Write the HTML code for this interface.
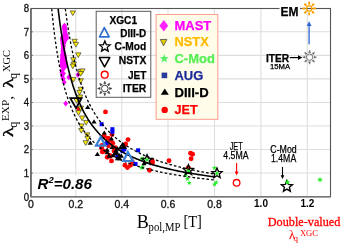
<!DOCTYPE html>
<html><head><meta charset="utf-8"><style>
html,body{margin:0;padding:0;background:#fff;width:342px;height:245px;overflow:hidden}
svg{display:block}
.g{stroke:#dedede;stroke-width:1.1}
.sol{fill:none;stroke:#000;stroke-width:1.6}
.dsh{fill:none;stroke:#000;stroke-width:1.3;stroke-dasharray:2.6 2.1}
.tk{font-family:"Liberation Sans",Arial,sans-serif;font-size:10.5px;fill:#111;stroke:#111;stroke-width:0.3px}
.tb{font-family:"Liberation Sans",Arial,sans-serif;font-size:10px;font-weight:bold;fill:#000}
.lg{font-family:"Liberation Sans",Arial,sans-serif;font-weight:bold;stroke-width:0.25px}
.sr{font-family:"Liberation Serif","Times New Roman",serif}
.cal{font-family:"Liberation Sans",Arial,sans-serif;fill:#000;stroke:#000;stroke-width:0.25px}
</style></head><body>
<svg width="342" height="245" viewBox="0 0 342 245">
<line x1="75.80" y1="8.5" x2="75.80" y2="196.5" class="g"/>
<line x1="121.80" y1="8.5" x2="121.80" y2="196.5" class="g"/>
<line x1="168.00" y1="8.5" x2="168.00" y2="196.5" class="g"/>
<line x1="214.50" y1="8.5" x2="214.50" y2="196.5" class="g"/>
<line x1="260.90" y1="8.5" x2="260.90" y2="196.5" class="g"/>
<line x1="307.30" y1="8.5" x2="307.30" y2="196.5" class="g"/>
<line x1="31" y1="173.06" x2="330.5" y2="173.06" class="g"/>
<line x1="31" y1="149.52" x2="330.5" y2="149.52" class="g"/>
<line x1="31" y1="125.98" x2="330.5" y2="125.98" class="g"/>
<line x1="31" y1="102.44" x2="330.5" y2="102.44" class="g"/>
<line x1="31" y1="78.90" x2="330.5" y2="78.90" class="g"/>
<line x1="31" y1="55.36" x2="330.5" y2="55.36" class="g"/>
<line x1="31" y1="31.82" x2="330.5" y2="31.82" class="g"/>
<polygon points="64.7,23.2 62.5,25.5 62.7,30 62.7,35 60,37 60.3,40 60.5,42 60.9,45 61.4,48 61.4,52 60.5,55 60,60 60,65 60.3,68 67.3,68 67.2,65 66.8,60 66.3,55 64.6,52 64.6,48 65.5,44 66.3,41 68.5,39.5 69,37 67.2,34 66.8,30 66.4,25.5" fill="#ff00ff"/>
<polygon points="64.29,23.04 66.69,26.04 64.29,29.04 61.89,26.04" fill="#ff00ff" stroke="none" stroke-width="0"/>
<polygon points="64.39,23.10 66.79,26.10 64.39,29.10 61.99,26.10" fill="#ff00ff" stroke="none" stroke-width="0"/>
<polygon points="64.69,24.17 67.09,27.17 64.69,30.17 62.29,27.17" fill="#ff00ff" stroke="none" stroke-width="0"/>
<polygon points="64.20,24.94 66.60,27.94 64.20,30.94 61.80,27.94" fill="#ff00ff" stroke="none" stroke-width="0"/>
<polygon points="64.49,25.93 66.89,28.93 64.49,31.93 62.09,28.93" fill="#ff00ff" stroke="none" stroke-width="0"/>
<polygon points="65.13,26.17 67.53,29.17 65.13,32.17 62.73,29.17" fill="#ff00ff" stroke="none" stroke-width="0"/>
<polygon points="65.12,27.78 67.52,30.78 65.12,33.78 62.72,30.78" fill="#ff00ff" stroke="none" stroke-width="0"/>
<polygon points="64.93,27.45 67.33,30.45 64.93,33.45 62.53,30.45" fill="#ff00ff" stroke="none" stroke-width="0"/>
<polygon points="65.02,29.77 67.42,32.77 65.02,35.77 62.62,32.77" fill="#ff00ff" stroke="none" stroke-width="0"/>
<polygon points="64.90,29.64 67.30,32.64 64.90,35.64 62.50,32.64" fill="#ff00ff" stroke="none" stroke-width="0"/>
<polygon points="65.17,30.56 67.57,33.56 65.17,36.56 62.77,33.56" fill="#ff00ff" stroke="none" stroke-width="0"/>
<polygon points="65.29,31.09 67.69,34.09 65.29,37.09 62.89,34.09" fill="#ff00ff" stroke="none" stroke-width="0"/>
<polygon points="64.41,32.13 66.81,35.13 64.41,38.13 62.01,35.13" fill="#ff00ff" stroke="none" stroke-width="0"/>
<polygon points="66.15,32.57 68.55,35.57 66.15,38.57 63.75,35.57" fill="#ff00ff" stroke="none" stroke-width="0"/>
<polygon points="65.75,34.58 68.15,37.58 65.75,40.58 63.35,37.58" fill="#ff00ff" stroke="none" stroke-width="0"/>
<polygon points="65.72,34.62 68.12,37.62 65.72,40.62 63.32,37.62" fill="#ff00ff" stroke="none" stroke-width="0"/>
<polygon points="63.86,36.10 66.26,39.10 63.86,42.10 61.46,39.10" fill="#ff00ff" stroke="none" stroke-width="0"/>
<polygon points="64.12,36.24 66.52,39.24 64.12,42.24 61.72,39.24" fill="#ff00ff" stroke="none" stroke-width="0"/>
<polygon points="65.14,37.00 67.54,40.00 65.14,43.00 62.74,40.00" fill="#ff00ff" stroke="none" stroke-width="0"/>
<polygon points="62.43,37.12 64.83,40.12 62.43,43.12 60.03,40.12" fill="#ff00ff" stroke="none" stroke-width="0"/>
<polygon points="64.35,38.94 66.75,41.94 64.35,44.94 61.95,41.94" fill="#ff00ff" stroke="none" stroke-width="0"/>
<polygon points="63.56,38.80 65.96,41.80 63.56,44.80 61.16,41.80" fill="#ff00ff" stroke="none" stroke-width="0"/>
<polygon points="63.17,40.49 65.57,43.49 63.17,46.49 60.77,43.49" fill="#ff00ff" stroke="none" stroke-width="0"/>
<polygon points="62.91,40.69 65.31,43.69 62.91,46.69 60.51,43.69" fill="#ff00ff" stroke="none" stroke-width="0"/>
<polygon points="63.17,42.60 65.57,45.60 63.17,48.60 60.77,45.60" fill="#ff00ff" stroke="none" stroke-width="0"/>
<polygon points="63.28,42.63 65.68,45.63 63.28,48.63 60.88,45.63" fill="#ff00ff" stroke="none" stroke-width="0"/>
<polygon points="63.20,44.29 65.60,47.29 63.20,50.29 60.80,47.29" fill="#ff00ff" stroke="none" stroke-width="0"/>
<polygon points="63.12,43.46 65.52,46.46 63.12,49.46 60.72,46.46" fill="#ff00ff" stroke="none" stroke-width="0"/>
<polygon points="63.00,45.76 65.40,48.76 63.00,51.76 60.60,48.76" fill="#ff00ff" stroke="none" stroke-width="0"/>
<polygon points="63.00,45.86 65.40,48.86 63.00,51.86 60.60,48.86" fill="#ff00ff" stroke="none" stroke-width="0"/>
<polygon points="63.00,47.40 65.40,50.40 63.00,53.40 60.60,50.40" fill="#ff00ff" stroke="none" stroke-width="0"/>
<polygon points="63.00,47.07 65.40,50.07 63.00,53.07 60.60,50.07" fill="#ff00ff" stroke="none" stroke-width="0"/>
<polygon points="63.00,48.81 65.40,51.81 63.00,54.81 60.60,51.81" fill="#ff00ff" stroke="none" stroke-width="0"/>
<polygon points="63.00,48.31 65.40,51.31 63.00,54.31 60.60,51.31" fill="#ff00ff" stroke="none" stroke-width="0"/>
<polygon points="63.50,50.27 65.90,53.27 63.50,56.27 61.10,53.27" fill="#ff00ff" stroke="none" stroke-width="0"/>
<polygon points="62.94,49.76 65.34,52.76 62.94,55.76 60.54,52.76" fill="#ff00ff" stroke="none" stroke-width="0"/>
<polygon points="64.23,52.29 66.63,55.29 64.23,58.29 61.83,55.29" fill="#ff00ff" stroke="none" stroke-width="0"/>
<polygon points="62.37,52.10 64.77,55.10 62.37,58.10 59.97,55.10" fill="#ff00ff" stroke="none" stroke-width="0"/>
<polygon points="63.14,53.05 65.54,56.05 63.14,59.05 60.74,56.05" fill="#ff00ff" stroke="none" stroke-width="0"/>
<polygon points="62.81,53.67 65.21,56.67 62.81,59.67 60.41,56.67" fill="#ff00ff" stroke="none" stroke-width="0"/>
<polygon points="64.59,54.54 66.99,57.54 64.59,60.54 62.19,57.54" fill="#ff00ff" stroke="none" stroke-width="0"/>
<polygon points="63.77,54.54 66.17,57.54 63.77,60.54 61.37,57.54" fill="#ff00ff" stroke="none" stroke-width="0"/>
<polygon points="64.17,56.43 66.57,59.43 64.17,62.43 61.77,59.43" fill="#ff00ff" stroke="none" stroke-width="0"/>
<polygon points="64.74,57.08 67.14,60.08 64.74,63.08 62.34,60.08" fill="#ff00ff" stroke="none" stroke-width="0"/>
<polygon points="63.47,58.70 65.87,61.70 63.47,64.70 61.07,61.70" fill="#ff00ff" stroke="none" stroke-width="0"/>
<polygon points="62.74,57.78 65.14,60.78 62.74,63.78 60.34,60.78" fill="#ff00ff" stroke="none" stroke-width="0"/>
<polygon points="63.89,59.33 66.29,62.33 63.89,65.33 61.49,62.33" fill="#ff00ff" stroke="none" stroke-width="0"/>
<polygon points="62.35,59.71 64.75,62.71 62.35,65.71 59.95,62.71" fill="#ff00ff" stroke="none" stroke-width="0"/>
<polygon points="64.01,61.06 66.41,64.06 64.01,67.06 61.61,64.06" fill="#ff00ff" stroke="none" stroke-width="0"/>
<polygon points="61.77,61.77 64.17,64.77 61.77,67.77 59.37,64.77" fill="#ff00ff" stroke="none" stroke-width="0"/>
<polygon points="62.93,63.46 65.33,66.46 62.93,69.46 60.53,66.46" fill="#ff00ff" stroke="none" stroke-width="0"/>
<polygon points="65.23,62.88 67.63,65.88 65.23,68.88 62.83,65.88" fill="#ff00ff" stroke="none" stroke-width="0"/>
<polygon points="63.62,64.62 66.02,67.62 63.62,70.62 61.22,67.62" fill="#ff00ff" stroke="none" stroke-width="0"/>
<polygon points="64.32,64.70 66.72,67.70 64.32,70.70 61.92,67.70" fill="#ff00ff" stroke="none" stroke-width="0"/>
<polygon points="62.00,67.50 64.40,70.50 62.00,73.50 59.60,70.50" fill="#ff00ff" stroke="none" stroke-width="0"/>
<polygon points="63.50,70.50 65.90,73.50 63.50,76.50 61.10,73.50" fill="#ff00ff" stroke="none" stroke-width="0"/>
<polygon points="62.30,73.00 64.70,76.00 62.30,79.00 59.90,76.00" fill="#ff00ff" stroke="none" stroke-width="0"/>
<polygon points="61.80,69.50 64.20,72.50 61.80,75.50 59.40,72.50" fill="#ff00ff" stroke="none" stroke-width="0"/>
<polygon points="68.80,74.20 71.20,77.20 68.80,80.20 66.40,77.20" fill="#ff00ff" stroke="none" stroke-width="0"/>
<polygon points="64.20,79.30 66.60,82.30 64.20,85.30 61.80,82.30" fill="#ff00ff" stroke="none" stroke-width="0"/>
<polygon points="63.20,75.80 65.60,78.80 63.20,81.80 60.80,78.80" fill="#ff00ff" stroke="none" stroke-width="0"/>
<polygon points="78.00,71.70 80.40,74.70 78.00,77.70 75.60,74.70" fill="#ff00ff" stroke="none" stroke-width="0"/>
<polygon points="65.70,100.60 68.10,103.60 65.70,106.60 63.30,103.60" fill="#ff00ff" stroke="none" stroke-width="0"/>
<circle cx="78.50" cy="108.90" r="2.0" fill="#ff0000"/>
<polygon points="70.10,10.92 75.50,10.92 72.80,15.62" fill="#ffee00" stroke="#333" stroke-width="0.65" stroke-linejoin="round"/>
<polygon points="71.90,39.32 77.30,39.32 74.60,44.02" fill="#ffee00" stroke="#333" stroke-width="0.65" stroke-linejoin="round"/>
<polygon points="73.20,42.42 78.60,42.42 75.90,47.12" fill="#ffee00" stroke="#333" stroke-width="0.65" stroke-linejoin="round"/>
<polygon points="75.60,52.82 81.00,52.82 78.30,57.52" fill="#ffee00" stroke="#333" stroke-width="0.65" stroke-linejoin="round"/>
<polygon points="70.70,57.72 76.10,57.72 73.40,62.42" fill="#ffee00" stroke="#333" stroke-width="0.65" stroke-linejoin="round"/>
<polygon points="71.10,62.02 76.50,62.02 73.80,66.72" fill="#ffee00" stroke="#333" stroke-width="0.65" stroke-linejoin="round"/>
<polygon points="70.10,64.02 75.50,64.02 72.80,68.72" fill="#ffee00" stroke="#333" stroke-width="0.65" stroke-linejoin="round"/>
<polygon points="78.00,69.32 83.40,69.32 80.70,74.02" fill="#ffee00" stroke="#333" stroke-width="0.65" stroke-linejoin="round"/>
<polygon points="79.70,68.92 85.10,68.92 82.40,73.62" fill="#ffee00" stroke="#333" stroke-width="0.65" stroke-linejoin="round"/>
<polygon points="78.00,71.52 83.40,71.52 80.70,76.22" fill="#ffee00" stroke="#333" stroke-width="0.65" stroke-linejoin="round"/>
<polygon points="70.60,77.42 76.00,77.42 73.30,82.12" fill="#ffee00" stroke="#333" stroke-width="0.65" stroke-linejoin="round"/>
<polygon points="78.00,78.72 83.40,78.72 80.70,83.42" fill="#ffee00" stroke="#333" stroke-width="0.65" stroke-linejoin="round"/>
<polygon points="78.00,87.22 83.40,87.22 80.70,91.92" fill="#ffee00" stroke="#333" stroke-width="0.65" stroke-linejoin="round"/>
<polygon points="76.80,90.32 82.20,90.32 79.50,95.02" fill="#ffee00" stroke="#333" stroke-width="0.65" stroke-linejoin="round"/>
<polygon points="77.40,95.02 82.80,95.02 80.10,99.72" fill="#ffee00" stroke="#333" stroke-width="0.65" stroke-linejoin="round"/>
<polygon points="74.00,98.62 79.40,98.62 76.70,103.32" fill="#ffee00" stroke="#333" stroke-width="0.65" stroke-linejoin="round"/>
<polygon points="78.10,106.12 83.50,106.12 80.80,110.82" fill="#ffee00" stroke="#333" stroke-width="0.65" stroke-linejoin="round"/>
<polygon points="75.80,110.62 81.20,110.62 78.50,115.32" fill="#ffee00" stroke="#333" stroke-width="0.65" stroke-linejoin="round"/>
<polygon points="79.40,116.02 84.80,116.02 82.10,120.72" fill="#ffee00" stroke="#333" stroke-width="0.65" stroke-linejoin="round"/>
<polygon points="83.50,120.42 88.90,120.42 86.20,125.12" fill="#ffee00" stroke="#333" stroke-width="0.65" stroke-linejoin="round"/>
<polygon points="78.80,123.92 84.20,123.92 81.50,128.62" fill="#ffee00" stroke="#333" stroke-width="0.65" stroke-linejoin="round"/>
<polygon points="78.60,128.42 84.00,128.42 81.30,133.12" fill="#ffee00" stroke="#333" stroke-width="0.65" stroke-linejoin="round"/>
<polygon points="84.50,132.82 89.90,132.82 87.20,137.52" fill="#ffee00" stroke="#333" stroke-width="0.65" stroke-linejoin="round"/>
<polygon points="84.90,136.32 90.30,136.32 87.60,141.02" fill="#ffee00" stroke="#333" stroke-width="0.65" stroke-linejoin="round"/>
<polygon points="83.00,140.72 88.40,140.72 85.70,145.42" fill="#ffee00" stroke="#333" stroke-width="0.65" stroke-linejoin="round"/>
<circle cx="188.30" cy="167.60" r="2.45" fill="#ff0000"/>
<circle cx="105.50" cy="111.90" r="2.45" fill="#ff0000"/>
<circle cx="112.00" cy="134.60" r="2.45" fill="#ff0000"/>
<circle cx="104.20" cy="136.00" r="2.45" fill="#ff0000"/>
<circle cx="110.30" cy="140.20" r="2.45" fill="#ff0000"/>
<circle cx="112.70" cy="143.30" r="2.45" fill="#ff0000"/>
<circle cx="108.50" cy="145.70" r="2.45" fill="#ff0000"/>
<circle cx="115.20" cy="147.60" r="2.45" fill="#ff0000"/>
<circle cx="114.60" cy="150.60" r="2.45" fill="#ff0000"/>
<circle cx="101.70" cy="148.20" r="2.45" fill="#ff0000"/>
<circle cx="102.30" cy="151.90" r="2.45" fill="#ff0000"/>
<circle cx="109.70" cy="155.50" r="2.45" fill="#ff0000"/>
<circle cx="128.00" cy="139.60" r="2.45" fill="#ff0000"/>
<circle cx="125.60" cy="143.90" r="2.45" fill="#ff0000"/>
<circle cx="103.80" cy="151.20" r="2.45" fill="#ff0000"/>
<circle cx="110.30" cy="156.20" r="2.45" fill="#ff0000"/>
<circle cx="111.50" cy="160.90" r="2.45" fill="#ff0000"/>
<circle cx="114.00" cy="151.10" r="2.45" fill="#ff0000"/>
<circle cx="107.20" cy="157.20" r="2.45" fill="#ff0000"/>
<circle cx="125.00" cy="165.20" r="2.45" fill="#ff0000"/>
<circle cx="127.40" cy="167.60" r="2.45" fill="#ff0000"/>
<circle cx="130.50" cy="165.20" r="2.45" fill="#ff0000"/>
<circle cx="124.40" cy="145.60" r="2.45" fill="#ff0000"/>
<circle cx="132.30" cy="161.70" r="2.45" fill="#ff0000"/>
<circle cx="152.50" cy="163.00" r="2.45" fill="#ff0000"/>
<circle cx="149.50" cy="170.30" r="2.45" fill="#ff0000"/>
<circle cx="169.00" cy="160.80" r="2.45" fill="#ff0000"/>
<circle cx="190.60" cy="153.30" r="2.45" fill="#ff0000"/>
<circle cx="192.60" cy="154.20" r="2.45" fill="#ff0000"/>
<circle cx="191.10" cy="158.80" r="2.45" fill="#ff0000"/>
<circle cx="152.40" cy="161.30" r="2.45" fill="#ff0000"/>
<circle cx="108.00" cy="138.20" r="2.45" fill="#ff0000"/>
<circle cx="101.90" cy="145.50" r="2.45" fill="#ff0000"/>
<rect x="99.60" y="122.20" width="4.00" height="4.00" fill="#0000ff"/>
<rect x="110.40" y="127.20" width="4.00" height="4.00" fill="#0000ff"/>
<rect x="110.40" y="129.80" width="4.00" height="4.00" fill="#0000ff"/>
<rect x="104.60" y="141.30" width="4.00" height="4.00" fill="#0000ff"/>
<rect x="122.40" y="147.40" width="4.00" height="4.00" fill="#0000ff"/>
<rect x="120.50" y="149.20" width="4.00" height="4.00" fill="#0000ff"/>
<rect x="115.30" y="154.40" width="4.00" height="4.00" fill="#0000ff"/>
<rect x="133.50" y="162.00" width="4.00" height="4.00" fill="#0000ff"/>
<rect x="136.10" y="148.30" width="4.00" height="4.00" fill="#0000ff"/>
<polygon points="113.40,152.18 118.60,152.18 116.00,147.98" fill="#000" stroke="none" stroke-width="0" stroke-linejoin="round"/>
<polygon points="112.20,155.18 117.40,155.18 114.80,150.98" fill="#000" stroke="none" stroke-width="0" stroke-linejoin="round"/>
<polygon points="116.90,160.18 122.10,160.18 119.50,155.98" fill="#000" stroke="none" stroke-width="0" stroke-linejoin="round"/>
<polygon points="117.90,149.18 123.10,149.18 120.50,144.98" fill="#000" stroke="none" stroke-width="0" stroke-linejoin="round"/>
<polygon points="85.10,108.88 90.30,108.88 87.70,104.68" fill="#000" stroke="none" stroke-width="0" stroke-linejoin="round"/>
<polygon points="91.40,123.48 96.60,123.48 94.00,119.28" fill="#000" stroke="none" stroke-width="0" stroke-linejoin="round"/>
<polygon points="87.60,144.78 92.80,144.78 90.20,140.58" fill="#000" stroke="none" stroke-width="0" stroke-linejoin="round"/>
<polygon points="101.70,134.58 106.90,134.58 104.30,130.38" fill="#000" stroke="none" stroke-width="0" stroke-linejoin="round"/>
<polygon points="94.80,155.88 100.00,155.88 97.40,151.68" fill="#000" stroke="none" stroke-width="0" stroke-linejoin="round"/>
<polygon points="104.60,151.68 109.80,151.68 107.20,147.48" fill="#000" stroke="none" stroke-width="0" stroke-linejoin="round"/>
<polygon points="104.60,154.28 109.80,154.28 107.20,150.08" fill="#000" stroke="none" stroke-width="0" stroke-linejoin="round"/>
<polygon points="106.50,157.68 111.70,157.68 109.10,153.48" fill="#000" stroke="none" stroke-width="0" stroke-linejoin="round"/>
<polygon points="115.00,150.48 120.20,150.48 117.60,146.28" fill="#000" stroke="none" stroke-width="0" stroke-linejoin="round"/>
<polygon points="114.40,154.78 119.60,154.78 117.00,150.58" fill="#000" stroke="none" stroke-width="0" stroke-linejoin="round"/>
<polygon points="116.90,157.18 122.10,157.18 119.50,152.98" fill="#000" stroke="none" stroke-width="0" stroke-linejoin="round"/>
<polygon points="119.90,146.18 125.10,146.18 122.50,141.98" fill="#000" stroke="none" stroke-width="0" stroke-linejoin="round"/>
<polygon points="121.80,148.68 127.00,148.68 124.40,144.48" fill="#000" stroke="none" stroke-width="0" stroke-linejoin="round"/>
<polygon points="110.70,157.18 115.90,157.18 113.30,152.98" fill="#000" stroke="none" stroke-width="0" stroke-linejoin="round"/>
<polygon points="115.00,160.18 120.20,160.18 117.60,155.98" fill="#000" stroke="none" stroke-width="0" stroke-linejoin="round"/>
<polygon points="120.50,148.48 125.70,148.48 123.10,144.28" fill="#000" stroke="none" stroke-width="0" stroke-linejoin="round"/>
<polygon points="118.70,157.68 123.90,157.68 121.30,153.48" fill="#000" stroke="none" stroke-width="0" stroke-linejoin="round"/>
<polygon points="109.50,149.08 114.70,149.08 112.10,144.88" fill="#000" stroke="none" stroke-width="0" stroke-linejoin="round"/>
<polygon points="141.40,165.28 146.60,165.28 144.00,161.08" fill="#000" stroke="none" stroke-width="0" stroke-linejoin="round"/>
<polygon points="108.80,140.48 114.00,140.48 111.40,136.28" fill="#000" stroke="none" stroke-width="0" stroke-linejoin="round"/>
<polygon points="214.50,181.90 215.14,183.62 216.97,183.70 215.54,184.84 216.03,186.60 214.50,185.59 212.97,186.60 213.46,184.84 212.03,183.70 213.86,183.62" fill="#22ee22" stroke="none" stroke-width="0" stroke-linejoin="miter"/>
<polygon points="189.00,168.90 189.64,170.62 191.47,170.70 190.04,171.84 190.53,173.60 189.00,172.59 187.47,173.60 187.96,171.84 186.53,170.70 188.36,170.62" fill="#22ee22" stroke="none" stroke-width="0" stroke-linejoin="miter"/>
<polygon points="141.50,165.20 142.14,166.92 143.97,167.00 142.54,168.14 143.03,169.90 141.50,168.89 139.97,169.90 140.46,168.14 139.03,167.00 140.86,166.92" fill="#22ee22" stroke="none" stroke-width="0" stroke-linejoin="miter"/>
<polygon points="143.30,156.10 143.94,157.82 145.77,157.90 144.34,159.04 144.83,160.80 143.30,159.79 141.77,160.80 142.26,159.04 140.83,157.90 142.66,157.82" fill="#22ee22" stroke="none" stroke-width="0" stroke-linejoin="miter"/>
<polygon points="147.00,157.30 147.64,159.02 149.47,159.10 148.04,160.24 148.53,162.00 147.00,160.99 145.47,162.00 145.96,160.24 144.53,159.10 146.36,159.02" fill="#22ee22" stroke="none" stroke-width="0" stroke-linejoin="miter"/>
<polygon points="185.60,173.10 186.24,174.82 188.07,174.90 186.64,176.04 187.13,177.80 185.60,176.79 184.07,177.80 184.56,176.04 183.13,174.90 184.96,174.82" fill="#22ee22" stroke="none" stroke-width="0" stroke-linejoin="miter"/>
<polygon points="187.40,176.40 188.04,178.12 189.87,178.20 188.44,179.34 188.93,181.10 187.40,180.09 185.87,181.10 186.36,179.34 184.93,178.20 186.76,178.12" fill="#22ee22" stroke="none" stroke-width="0" stroke-linejoin="miter"/>
<polygon points="189.30,180.40 189.94,182.12 191.77,182.20 190.34,183.34 190.83,185.10 189.30,184.09 187.77,185.10 188.26,183.34 186.83,182.20 188.66,182.12" fill="#22ee22" stroke="none" stroke-width="0" stroke-linejoin="miter"/>
<polygon points="185.60,170.40 186.24,172.12 188.07,172.20 186.64,173.34 187.13,175.10 185.60,174.09 184.07,175.10 184.56,173.34 183.13,172.20 184.96,172.12" fill="#22ee22" stroke="none" stroke-width="0" stroke-linejoin="miter"/>
<polygon points="188.30,167.60 188.94,169.32 190.77,169.40 189.34,170.54 189.83,172.30 188.30,171.29 186.77,172.30 187.26,170.54 185.83,169.40 187.66,169.32" fill="#22ee22" stroke="none" stroke-width="0" stroke-linejoin="miter"/>
<polygon points="214.40,165.20 215.04,166.92 216.87,167.00 215.44,168.14 215.93,169.90 214.40,168.89 212.87,169.90 213.36,168.14 211.93,167.00 213.76,166.92" fill="#22ee22" stroke="none" stroke-width="0" stroke-linejoin="miter"/>
<polygon points="216.20,179.90 216.84,181.62 218.67,181.70 217.24,182.84 217.73,184.60 216.20,183.59 214.67,184.60 215.16,182.84 213.73,181.70 215.56,181.62" fill="#22ee22" stroke="none" stroke-width="0" stroke-linejoin="miter"/>
<polygon points="217.00,170.70 217.64,172.42 219.47,172.50 218.04,173.64 218.53,175.40 217.00,174.39 215.47,175.40 215.96,173.64 214.53,172.50 216.36,172.42" fill="#22ee22" stroke="none" stroke-width="0" stroke-linejoin="miter"/>
<polygon points="141.70,156.40 142.34,158.12 144.17,158.20 142.74,159.34 143.23,161.10 141.70,160.09 140.17,161.10 140.66,159.34 139.23,158.20 141.06,158.12" fill="#22ee22" stroke="none" stroke-width="0" stroke-linejoin="miter"/>
<polygon points="142.50,164.60 143.14,166.32 144.97,166.40 143.54,167.54 144.03,169.30 142.50,168.29 140.97,169.30 141.46,167.54 140.03,166.40 141.86,166.32" fill="#22ee22" stroke="none" stroke-width="0" stroke-linejoin="miter"/>
<polyline points="58.10,8.60 58.29,10.23 58.49,11.84 58.69,13.46 58.89,15.08 59.09,16.70 59.30,18.32 59.52,19.94 59.73,21.56 59.95,23.17 60.18,24.79 60.41,26.40 60.64,28.02 60.87,29.63 61.11,31.25 61.36,32.86 61.61,34.47 61.86,36.09 62.12,37.70 62.38,39.31 62.65,40.92 62.93,42.52 63.21,44.13 63.49,45.74 63.78,47.34 64.08,48.95 64.38,50.55 64.69,52.16 65.00,53.76 65.32,55.36 65.65,56.96 65.98,58.55 66.32,60.15 66.67,61.74 67.02,63.33 67.39,64.93 67.76,66.51 68.14,68.10 68.53,69.69 68.92,71.27 69.33,72.85 69.74,74.43 70.17,76.00 70.60,77.58 71.04,79.15 71.50,80.71 71.96,82.28 72.44,83.84 72.93,85.40 73.43,86.95 73.94,88.50 74.46,90.04 75.00,91.58 75.55,93.12 76.12,94.65 76.69,96.18 77.29,97.70 77.90,99.21 78.52,100.72 79.16,102.22 79.81,103.71 80.49,105.20 81.18,106.68 81.88,108.15 82.61,109.61 83.35,111.06 84.12,112.51 84.90,113.94 85.70,115.36 86.52,116.77 87.36,118.17 88.22,119.55 89.11,120.92 90.01,122.28 90.94,123.63 91.89,124.95 92.85,126.27 93.85,127.56 94.86,128.84 95.89,130.10 96.95,131.35 98.03,132.57 99.13,133.78 100.25,134.96 101.39,136.13 102.55,137.27 103.74,138.40 104.94,139.50 106.16,140.58 107.40,141.64 108.66,142.68 109.94,143.69 111.23,144.69 112.54,145.66 113.87,146.61 115.21,147.54 116.57,148.44 117.94,149.32 119.33,150.19 120.73,151.03 122.14,151.85 123.56,152.65 124.99,153.43 126.44,154.19 127.89,154.93 129.35,155.65 130.83,156.35 132.31,157.03 133.80,157.70 135.29,158.35 136.80,158.98 138.31,159.60 139.83,160.20 141.35,160.78 142.88,161.35 144.41,161.91 145.95,162.45 147.50,162.98 149.05,163.49 150.60,163.99 152.16,164.48 153.72,164.95 155.28,165.42 156.85,165.87 158.42,166.31 159.99,166.74 161.57,167.16 163.15,167.57 164.73,167.97 166.32,168.37 167.90,168.75 169.49,169.12 171.08,169.48 172.67,169.84 174.27,170.19 175.86,170.53 177.46,170.86 179.06,171.19 180.66,171.50 182.26,171.82 183.87,172.12 185.47,172.42 187.07,172.71 188.68,172.99 190.29,173.27 191.90,173.55 193.51,173.81 195.12,174.08 196.73,174.33 198.34,174.59 199.95,174.83 201.57,175.07 203.18,175.31 204.80,175.54 206.41,175.77 208.03,176.00 209.65,176.22 211.26,176.43 212.88,176.64 214.50,176.85" class="sol"/>
<polyline points="65.35,8.80 65.55,10.34 65.75,11.89 65.96,13.44 66.17,14.99 66.38,16.53 66.60,18.08 66.82,19.63 67.04,21.17 67.27,22.72 67.50,24.26 67.74,25.80 67.98,27.35 68.22,28.89 68.47,30.43 68.72,31.97 68.98,33.51 69.24,35.05 69.51,36.59 69.78,38.13 70.06,39.66 70.34,41.20 70.62,42.74 70.91,44.27 71.21,45.80 71.52,47.33 71.82,48.86 72.14,50.39 72.46,51.92 72.79,53.45 73.12,54.97 73.46,56.50 73.81,58.02 74.16,59.54 74.52,61.06 74.89,62.58 75.27,64.09 75.66,65.61 76.05,67.12 76.45,68.63 76.86,70.13 77.28,71.64 77.71,73.14 78.14,74.64 78.59,76.13 79.05,77.63 79.51,79.12 79.99,80.60 80.48,82.09 80.98,83.57 81.49,85.04 82.01,86.51 82.55,87.98 83.10,89.44 83.66,90.90 84.23,92.35 84.81,93.80 85.42,95.24 86.03,96.68 86.66,98.11 87.30,99.53 87.96,100.94 88.63,102.35 89.32,103.75 90.03,105.15 90.75,106.53 91.49,107.90 92.25,109.27 93.02,110.63 93.82,111.97 94.63,113.31 95.45,114.63 96.30,115.94 97.16,117.24 98.05,118.53 98.95,119.81 99.87,121.07 100.81,122.31 101.77,123.55 102.75,124.76 103.74,125.97 104.76,127.15 105.79,128.32 106.84,129.48 107.92,130.61 109.00,131.73 110.11,132.83 111.24,133.92 112.38,134.98 113.54,136.03 114.71,137.06 115.90,138.07 117.11,139.06 118.33,140.03 119.57,140.98 120.82,141.92 122.08,142.84 123.36,143.73 124.65,144.61 125.95,145.47 127.27,146.32 128.59,147.14 129.93,147.95 131.28,148.74 132.63,149.51 134.00,150.26 135.38,151.00 136.76,151.72 138.15,152.43 139.55,153.12 140.96,153.79 142.38,154.45 143.80,155.10 145.23,155.73 146.66,156.34 148.10,156.95 149.55,157.53 151.00,158.11 152.46,158.67 153.92,159.22 155.38,159.76 156.85,160.29 158.33,160.80 159.81,161.31 161.29,161.80 162.77,162.28 164.26,162.75 165.75,163.22 167.25,163.67 168.75,164.11 170.25,164.54 171.75,164.97 173.25,165.38 174.76,165.79 176.27,166.19 177.78,166.58 179.30,166.96 180.81,167.34 182.33,167.71 183.85,168.07 185.37,168.42 186.89,168.77 188.42,169.11 189.94,169.44 191.47,169.77 193.00,170.09 194.53,170.40 196.06,170.71 197.59,171.01 199.12,171.31 200.66,171.60 202.19,171.89 203.73,172.17 205.26,172.45 206.80,172.72 208.34,172.99 209.88,173.25 211.42,173.51 212.96,173.76 214.50,174.01" class="dsh"/>
<polyline points="51.70,8.80 51.86,10.50 52.03,12.19 52.20,13.89 52.37,15.59 52.55,17.29 52.73,18.98 52.91,20.68 53.09,22.38 53.28,24.07 53.48,25.77 53.67,27.46 53.87,29.16 54.08,30.85 54.29,32.54 54.50,34.24 54.72,35.93 54.94,37.62 55.16,39.31 55.40,41.00 55.63,42.69 55.87,44.38 56.12,46.07 56.37,47.76 56.62,49.45 56.89,51.13 57.15,52.82 57.43,54.50 57.71,56.19 57.99,57.87 58.29,59.55 58.59,61.23 58.89,62.91 59.21,64.58 59.53,66.26 59.86,67.93 60.20,69.61 60.54,71.28 60.90,72.95 61.26,74.61 61.64,76.28 62.02,77.94 62.41,79.60 62.81,81.26 63.23,82.91 63.65,84.57 64.09,86.22 64.54,87.86 65.00,89.51 65.47,91.15 65.96,92.78 66.46,94.41 66.98,96.04 67.51,97.66 68.05,99.28 68.61,100.89 69.19,102.49 69.79,104.09 70.40,105.69 71.03,107.27 71.68,108.85 72.35,110.42 73.04,111.98 73.75,113.53 74.48,115.07 75.23,116.60 76.01,118.12 76.81,119.63 77.63,121.12 78.48,122.61 79.35,124.07 80.25,125.52 81.17,126.96 82.12,128.38 83.09,129.78 84.09,131.16 85.12,132.52 86.17,133.87 87.26,135.19 88.36,136.49 89.50,137.76 90.65,139.01 91.84,140.24 93.05,141.44 94.28,142.62 95.54,143.77 96.82,144.90 98.13,146.00 99.45,147.07 100.80,148.12 102.17,149.14 103.56,150.13 104.96,151.10 106.39,152.04 107.83,152.96 109.28,153.84 110.76,154.71 112.24,155.55 113.74,156.36 115.25,157.15 116.78,157.92 118.31,158.67 119.86,159.39 121.41,160.09 122.97,160.78 124.55,161.44 126.13,162.08 127.72,162.70 129.31,163.31 130.92,163.89 132.52,164.46 134.14,165.02 135.76,165.55 137.38,166.08 139.01,166.58 140.64,167.08 142.28,167.56 143.92,168.02 145.57,168.48 147.22,168.92 148.87,169.35 150.52,169.76 152.18,170.17 153.84,170.56 155.50,170.95 157.17,171.32 158.83,171.69 160.50,172.05 162.17,172.39 163.85,172.73 165.52,173.06 167.20,173.38 168.87,173.70 170.55,174.00 172.23,174.30 173.91,174.60 175.59,174.88 177.28,175.16 178.96,175.43 180.65,175.70 182.33,175.96 184.02,176.21 185.71,176.46 187.40,176.71 189.09,176.94 190.78,177.18 192.47,177.41 194.16,177.63 195.85,177.85 197.55,178.06 199.24,178.27 200.93,178.48 202.63,178.68 204.32,178.88 206.02,179.07 207.71,179.26 209.41,179.45 211.11,179.63 212.80,179.81 214.50,179.98" class="dsh"/>
<polygon points="70.3,98.2 81.6,98.2 76.0,108.2" fill="none" stroke="#000" stroke-width="1.8" stroke-linejoin="miter"/>
<polygon points="100.7,137.0 96.0,145.7 105.4,145.7" fill="none" stroke="#3a7fd5" stroke-width="2.2"/>
<polygon points="127.9,152.0 123.4,161.0 132.9,161.0" fill="none" stroke="#3a7fd5" stroke-width="2.2"/>
<polygon points="147.00,154.60 148.43,158.03 152.14,158.33 149.31,160.75 150.17,164.37 147.00,162.43 143.83,164.37 144.69,160.75 141.86,158.33 145.57,158.03" fill="none" stroke="#000" stroke-width="1.3" stroke-linejoin="miter"/>
<polygon points="188.40,164.80 189.83,168.23 193.54,168.53 190.71,170.95 191.57,174.57 188.40,172.63 185.23,174.57 186.09,170.95 183.26,168.53 186.97,168.23" fill="none" stroke="#000" stroke-width="1.3" stroke-linejoin="miter"/>
<polygon points="217.00,167.90 218.43,171.33 222.14,171.63 219.31,174.05 220.17,177.67 217.00,175.73 213.83,177.67 214.69,174.05 211.86,171.63 215.57,171.33" fill="none" stroke="#000" stroke-width="1.3" stroke-linejoin="miter"/>
<rect x="31" y="8.5" width="299.5" height="188.2" fill="none" stroke="#555" stroke-width="1.1"/>
<line x1="30.9" y1="8.5" x2="30.9" y2="197" stroke="#666" stroke-width="1.5"/>
<line x1="30.5" y1="196.8" x2="330.5" y2="196.8" stroke="#777" stroke-width="1.6"/>
<text transform="translate(29.2,200.50) scale(0.92,1)" text-anchor="end" class="tk">0</text>
<text transform="translate(29.2,176.96) scale(0.92,1)" text-anchor="end" class="tk">1</text>
<line x1="31" y1="173.06" x2="33" y2="173.06" stroke="#666" stroke-width="0.8"/>
<text transform="translate(29.2,153.42) scale(0.92,1)" text-anchor="end" class="tk">2</text>
<line x1="31" y1="149.52" x2="33" y2="149.52" stroke="#666" stroke-width="0.8"/>
<text transform="translate(29.2,129.88) scale(0.92,1)" text-anchor="end" class="tk">3</text>
<line x1="31" y1="125.98" x2="33" y2="125.98" stroke="#666" stroke-width="0.8"/>
<text transform="translate(29.2,106.34) scale(0.92,1)" text-anchor="end" class="tk">4</text>
<line x1="31" y1="102.44" x2="33" y2="102.44" stroke="#666" stroke-width="0.8"/>
<text transform="translate(29.2,82.80) scale(0.92,1)" text-anchor="end" class="tk">5</text>
<line x1="31" y1="78.90" x2="33" y2="78.90" stroke="#666" stroke-width="0.8"/>
<text transform="translate(29.2,59.26) scale(0.92,1)" text-anchor="end" class="tk">6</text>
<line x1="31" y1="55.36" x2="33" y2="55.36" stroke="#666" stroke-width="0.8"/>
<text transform="translate(29.2,35.72) scale(0.92,1)" text-anchor="end" class="tk">7</text>
<line x1="31" y1="31.82" x2="33" y2="31.82" stroke="#666" stroke-width="0.8"/>
<text transform="translate(29.2,12.18) scale(0.92,1)" text-anchor="end" class="tk">8</text>
<text x="30.85" y="207.8" text-anchor="middle" class="tk">0</text>
<text x="75.80" y="207.8" text-anchor="middle" class="tk">0.2</text>
<text x="121.80" y="207.8" text-anchor="middle" class="tk">0.4</text>
<text x="168.00" y="207.8" text-anchor="middle" class="tk">0.6</text>
<text x="214.50" y="207.8" text-anchor="middle" class="tk">0.8</text>
<text x="261.00" y="207.4" text-anchor="middle" class="tb">1.0</text>
<text x="307.40" y="207.4" text-anchor="middle" class="tb">1.2</text>
<text class="sr" x="136.8" y="228" font-size="18">B</text>
<text class="sr" x="148.6" y="230.6" font-size="11.5" textLength="31.8" lengthAdjust="spacingAndGlyphs">pol,MP</text>
<text class="sr" x="183.4" y="227.2" font-size="17.5" textLength="18.4" lengthAdjust="spacingAndGlyphs">[T]</text>
<g transform="translate(12.7,137) rotate(-90)" class="sr"><text x="0" y="0" font-size="15" stroke="#000" stroke-width="0.35" textLength="9.8" lengthAdjust="spacingAndGlyphs">λ</text><text x="9.2" y="4.1" font-size="12" >q</text><text x="16" y="-3.7" font-size="10.5" textLength="21.2" lengthAdjust="spacingAndGlyphs">EXP</text><text x="37.2" y="0.3" font-size="15.5">,</text><text x="49" y="0" font-size="15" stroke="#000" stroke-width="0.35" textLength="9.8" lengthAdjust="spacingAndGlyphs">λ</text><text x="58" y="4.1" font-size="12">q</text><text x="65" y="-2.6" font-size="11" textLength="22" lengthAdjust="spacingAndGlyphs">XGC</text></g>
<rect x="36" y="175.5" width="57" height="14.5" fill="#fff"/>
<text x="37.6" y="188.5" font-family="Liberation Sans,Arial,sans-serif" font-weight="bold" font-style="italic" font-size="15.1">R<tspan font-size="9.4" dy="-5.3">2</tspan><tspan dy="5.3">=0.86</tspan></text>
<text class="sr" x="267.8" y="225.5" font-size="13" fill="#f00" stroke="#f00" stroke-width="0.3" textLength="72.6" lengthAdjust="spacingAndGlyphs">Double-valued</text>
<text class="sr" x="288.9" y="238.9" font-size="12.5" fill="#f00">λ</text>
<text class="sr" x="293.6" y="241" font-size="9" fill="#f00">q</text>
<text class="sr" x="299.9" y="235.6" font-size="8.6" fill="#f00" textLength="18.2" lengthAdjust="spacingAndGlyphs">XGC</text>
<rect x="279.5" y="5" width="20.5" height="12" fill="#fff"/>
<text x="280.5" y="16" class="lg" font-size="12" stroke="#000" textLength="18" lengthAdjust="spacingAndGlyphs">EM</text>
<text x="265.9" y="62" class="lg" font-size="10.5" stroke="#000" textLength="23.3" lengthAdjust="spacingAndGlyphs">ITER</text>
<text x="269.9" y="68.8" class="cal" font-size="6.6" textLength="20.2" lengthAdjust="spacingAndGlyphs">15MA</text>
<rect x="229.2" y="142" width="14" height="8.5" fill="#fff"/>
<text x="229.7" y="149.6" class="cal" font-size="10.6" textLength="12.9" lengthAdjust="spacingAndGlyphs">JET</text>
<text x="223.3" y="158.7" class="cal" font-size="10.6" textLength="25.3" lengthAdjust="spacingAndGlyphs">4.5MA</text>
<text x="270.3" y="153.2" class="cal" font-size="10.6" textLength="26.4" lengthAdjust="spacingAndGlyphs">C-Mod</text>
<text x="271" y="162.2" class="cal" font-size="10.6" textLength="25.2" lengthAdjust="spacingAndGlyphs">1.4MA</text>
<rect x="96.2" y="11.3" width="54.6" height="86" fill="none" stroke="#5a5a5a" stroke-width="1"/>
<text x="137.1" y="24.4" class="lg" font-size="10.8" stroke="#000" text-anchor="end" textLength="27.7" lengthAdjust="spacingAndGlyphs">XGC1</text>
<text x="120.30000000000001" y="37.3" class="lg" font-size="10.8" stroke="#000" textLength="26" lengthAdjust="spacingAndGlyphs">DIII-D</text>
<text x="114.60000000000001" y="50.4" class="lg" font-size="10.8" stroke="#000" textLength="31.7" lengthAdjust="spacingAndGlyphs">C-Mod</text>
<text x="118.70000000000002" y="64.4" class="lg" font-size="10.8" stroke="#000" textLength="27.6" lengthAdjust="spacingAndGlyphs">NSTX</text>
<text x="127.9" y="78.8" class="lg" font-size="10.8" stroke="#000" textLength="18.4" lengthAdjust="spacingAndGlyphs">JET</text>
<text x="122.70000000000002" y="92.1" class="lg" font-size="10.8" stroke="#000" textLength="23.6" lengthAdjust="spacingAndGlyphs">ITER</text>
<polygon points="99.55,36.78 109.15,36.78 104.35,27.58" fill="none" stroke="#2f6fd0" stroke-width="1.7" stroke-linejoin="round"/>
<polygon points="104.85,41.00 106.33,44.56 110.18,44.87 107.25,47.38 108.14,51.13 104.85,49.12 101.56,51.13 102.45,47.38 99.52,44.87 103.37,44.56" fill="none" stroke="#000" stroke-width="1.3" stroke-linejoin="miter"/>
<polygon points="99.35,57.54 109.75,57.54 104.55,66.94" fill="none" stroke="#000" stroke-width="1.5" stroke-linejoin="round"/>
<circle cx="104.7" cy="74.7" r="3.4" fill="none" stroke="#f00" stroke-width="1.4"/>
<circle cx="104.8" cy="88.5" r="3.3" fill="none" stroke="#3a3a3a" stroke-width="1.0"/><polygon points="109.50,89.60 112.10,88.50 109.50,87.40" fill="#3a3a3a" stroke="#3a3a3a" stroke-width="0.5" stroke-linejoin="round"/><polygon points="107.35,92.60 109.96,93.66 108.90,91.05" fill="#3a3a3a" stroke="#3a3a3a" stroke-width="0.5" stroke-linejoin="round"/><polygon points="103.70,93.20 104.80,95.80 105.90,93.20" fill="#3a3a3a" stroke="#3a3a3a" stroke-width="0.5" stroke-linejoin="round"/><polygon points="100.70,91.05 99.64,93.66 102.25,92.60" fill="#3a3a3a" stroke="#3a3a3a" stroke-width="0.5" stroke-linejoin="round"/><polygon points="100.10,87.40 97.50,88.50 100.10,89.60" fill="#3a3a3a" stroke="#3a3a3a" stroke-width="0.5" stroke-linejoin="round"/><polygon points="102.25,84.40 99.64,83.34 100.70,85.95" fill="#3a3a3a" stroke="#3a3a3a" stroke-width="0.5" stroke-linejoin="round"/><polygon points="105.90,83.80 104.80,81.20 103.70,83.80" fill="#3a3a3a" stroke="#3a3a3a" stroke-width="0.5" stroke-linejoin="round"/><polygon points="108.90,85.95 109.96,83.34 107.35,84.40" fill="#3a3a3a" stroke="#3a3a3a" stroke-width="0.5" stroke-linejoin="round"/>
<rect x="156.1" y="14.5" width="61.7" height="104.8" fill="#fffdea" stroke="#ff9c8c" stroke-width="1"/>
<text x="174.5" y="30.3" class="lg" font-size="13" fill="#ff00ff" stroke="#ff00ff" textLength="36.7" lengthAdjust="spacingAndGlyphs">MAST</text>
<text x="174.5" y="46.2" class="lg" font-size="13" fill="#ffbb00" stroke="#ffbb00" textLength="34.2" lengthAdjust="spacingAndGlyphs">NSTX</text>
<text x="174.5" y="63.3" class="lg" font-size="13" fill="#55ee55" stroke="#55ee55" textLength="40.3" lengthAdjust="spacingAndGlyphs">C-Mod</text>
<text x="174.5" y="80.4" class="lg" font-size="13" fill="#1c2a99" stroke="#1c2a99" textLength="28.8" lengthAdjust="spacingAndGlyphs">AUG</text>
<text x="174.5" y="96.8" class="lg" font-size="13" fill="#000" stroke="#000" textLength="34.2" lengthAdjust="spacingAndGlyphs">DIII-D</text>
<text x="174.5" y="113.9" class="lg" font-size="13" fill="#ff0000" stroke="#ff0000" textLength="23.2" lengthAdjust="spacingAndGlyphs">JET</text>
<polygon points="163.80,20.10 168.20,25.80 163.80,31.50 159.40,25.80" fill="#ff22ff" stroke="none" stroke-width="0"/>
<polygon points="160.25,39.44 166.85,39.44 163.55,45.84" fill="#e8d000" stroke="#444" stroke-width="0.8" stroke-linejoin="round"/>
<polygon points="164.30,53.90 165.46,57.00 168.77,57.15 166.18,59.21 167.06,62.40 164.30,60.57 161.54,62.40 162.42,59.21 159.83,57.15 163.14,57.00" fill="#55ee66" stroke="none" stroke-width="0" stroke-linejoin="miter"/>
<rect x="161.60" y="72.60" width="5.60" height="5.60" fill="#2a3a9a"/>
<polygon points="160.80,94.68 168.80,94.68 164.80,88.48" fill="#000" stroke="none" stroke-width="0" stroke-linejoin="round"/>
<circle cx="164.70" cy="109.90" r="3.2" fill="#ff0000"/>
<circle cx="309.2" cy="8.5" r="2.6" fill="none" stroke="#ffa200" stroke-width="1.3"/><line x1="313.80" y1="8.50" x2="315.20" y2="8.50" stroke="#ffa000" stroke-width="1.9" stroke-linecap="round"/><line x1="312.45" y1="11.75" x2="313.44" y2="12.74" stroke="#ffa000" stroke-width="1.9" stroke-linecap="round"/><line x1="309.20" y1="13.10" x2="309.20" y2="14.50" stroke="#ffa000" stroke-width="1.9" stroke-linecap="round"/><line x1="305.95" y1="11.75" x2="304.96" y2="12.74" stroke="#ffa000" stroke-width="1.9" stroke-linecap="round"/><line x1="304.60" y1="8.50" x2="303.20" y2="8.50" stroke="#ffa000" stroke-width="1.9" stroke-linecap="round"/><line x1="305.95" y1="5.25" x2="304.96" y2="4.26" stroke="#ffa000" stroke-width="1.9" stroke-linecap="round"/><line x1="309.20" y1="3.90" x2="309.20" y2="2.50" stroke="#ffa000" stroke-width="1.9" stroke-linecap="round"/><line x1="312.45" y1="5.25" x2="313.44" y2="4.26" stroke="#ffa000" stroke-width="1.9" stroke-linecap="round"/>
<line x1="309.1" y1="44.3" x2="309.1" y2="25" stroke="#2f66d0" stroke-width="1.3"/>
<polygon points="306.6,26 311.6,26 309.1,21.3" fill="#2f66d0"/>
<circle cx="309.6" cy="57.2" r="3.2" fill="none" stroke="#666" stroke-width="0.9"/><polygon points="314.10,58.15 316.60,57.20 314.10,56.25" fill="#666" stroke="#666" stroke-width="0.5" stroke-linejoin="round"/><polygon points="312.11,61.05 314.55,62.15 313.45,59.71" fill="#666" stroke="#666" stroke-width="0.5" stroke-linejoin="round"/><polygon points="308.65,61.70 309.60,64.20 310.55,61.70" fill="#666" stroke="#666" stroke-width="0.5" stroke-linejoin="round"/><polygon points="305.75,59.71 304.65,62.15 307.09,61.05" fill="#666" stroke="#666" stroke-width="0.5" stroke-linejoin="round"/><polygon points="305.10,56.25 302.60,57.20 305.10,58.15" fill="#666" stroke="#666" stroke-width="0.5" stroke-linejoin="round"/><polygon points="307.09,53.35 304.65,52.25 305.75,54.69" fill="#666" stroke="#666" stroke-width="0.5" stroke-linejoin="round"/><polygon points="310.55,52.70 309.60,50.20 308.65,52.70" fill="#666" stroke="#666" stroke-width="0.5" stroke-linejoin="round"/><polygon points="313.45,54.69 314.55,52.25 312.11,53.35" fill="#666" stroke="#666" stroke-width="0.5" stroke-linejoin="round"/>
<line x1="289.8" y1="57.6" x2="299" y2="57.6" stroke="#000" stroke-width="1.2"/>
<polygon points="298,55.2 302.3,57.6 298,60" fill="#000"/>
<line x1="236.6" y1="163" x2="236.6" y2="172.5" stroke="#f00" stroke-width="1.1"/>
<polygon points="234.7,171.5 238.5,171.5 236.6,175.5" fill="#f00"/>
<circle cx="236.6" cy="182.8" r="3.3" fill="none" stroke="#f00" stroke-width="1.3"/>
<line x1="282.5" y1="166.9" x2="282.5" y2="176" stroke="#000" stroke-width="1.1"/>
<polygon points="280.6,175.3 284.4,175.3 282.5,179" fill="#000"/>
<polygon points="286.90,180.70 288.43,184.39 292.42,184.71 289.38,187.31 290.31,191.19 286.90,189.11 283.49,191.19 284.42,187.31 281.38,184.71 285.37,184.39" fill="none" stroke="#000" stroke-width="1.4" stroke-linejoin="miter"/>
<polygon points="287.40,179.20 288.17,181.25 290.35,181.34 288.64,182.70 289.22,184.81 287.40,183.60 285.58,184.81 286.16,182.70 284.45,181.34 286.63,181.25" fill="#22ee22" stroke="none" stroke-width="0" stroke-linejoin="miter"/>
<polygon points="320.00,176.70 320.77,178.75 322.95,178.84 321.24,180.20 321.82,182.31 320.00,181.10 318.18,182.31 318.76,180.20 317.05,178.84 319.23,178.75" fill="#22ee22" stroke="none" stroke-width="0" stroke-linejoin="miter"/>
<!--AXES-->
</svg></body></html>
